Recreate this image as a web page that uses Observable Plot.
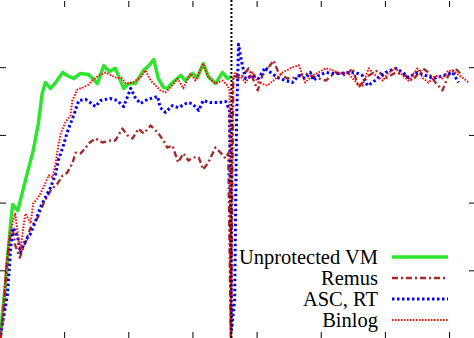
<!DOCTYPE html>
<html>
<head>
<meta charset="utf-8">
<script src="https://cdn.jsdelivr.net/npm/d3@7"></script>
<script src="https://cdn.jsdelivr.net/npm/@observablehq/plot@0.6"></script>
<style>
  html, body { margin: 0; padding: 0; background: #fff; }
  #wrap { position: relative; width: 474px; height: 338px; overflow: hidden; background: #fff; }
  #wrap svg { position: absolute; left: 0; top: 0; }
</style>
</head>
<body>
<div id="wrap"></div>
<script>
// ---- data (x: time, y: throughput) ----
const unprotectedVM = [[0,0.6],[0.3,7.4],[0.8,16.5],[1.2,26.0],[1.6,34.3],[1.9,39.6],[2.7,37.8],[3.4,43.1],[4.2,49.0],[5.1,55.5],[5.9,63.5],[6.5,72.4],[7.0,75.6],[7.8,73.9],[8.6,75.6],[9.7,78.6],[10.4,77.7],[11.4,76.8],[12.5,78.3],[13.7,78.0],[14.7,76.2],[15.1,75.3],[16.1,80.6],[17.0,78.9],[17.9,79.8],[18.7,76.2],[19.2,73.9],[20.0,75.3],[21.0,75.3],[22.3,79.2],[23.1,80.6],[23.9,82.4],[24.6,76.8],[25.4,74.2],[26.0,73.9],[26.8,75.6],[28.1,77.7],[28.8,76.2],[29.9,78.3],[30.7,77.1],[31.6,81.2],[32.4,77.4],[33.5,75.3],[34.6,78.6],[35.4,76.8],[36.0,77.4]];

const remus = [[0,0],[0.5,8.3],[0.9,20.1],[1.4,29.0],[1.9,32.5],[2.3,27.5],[3.0,23.9],[3.4,26.0],[3.9,28.4],[4.7,32.8],[5.8,35.7],[6.7,39.9],[7.8,43.7],[8.9,45.8],[9.7,48.2],[10.4,49.0],[11.2,51.7],[11.7,54.9],[12.5,54.7],[13.3,56.4],[13.7,57.6],[14.8,59.1],[15.9,57.9],[17.1,58.5],[17.9,58.5],[19.0,62.0],[19.8,60.0],[20.6,59.1],[21.5,62.0],[22.3,60.6],[23.4,62.9],[24.5,60.9],[25.4,58.5],[26.0,56.4],[26.8,57.0],[27.7,52.0],[28.5,54.7],[29.3,52.6],[30.1,53.5],[30.9,53.5],[31.6,49.9],[32.4,52.0],[33.5,56.4],[34.3,54.9],[35.1,53.2],[35.5,54.7],[35.9,0.6],[36.3,77.7],[37.4,76.8],[38.7,79.8],[40.1,73.3],[40.8,77.7],[42.6,82.1],[43.3,78.6],[44.7,76.8],[46.0,77.1],[47.5,78.3],[49.1,77.1],[50.7,76.2],[52.2,78.6],[53.8,77.7],[54.9,79.8],[55.8,74.2],[57.4,77.7],[58.8,79.2],[60.0,76.8],[61.6,78.6],[63.1,77.7],[64.2,76.2],[65.8,79.8],[66.7,78.6],[67.8,75.6],[68.9,73.3],[69.8,77.7],[70.9,79.8],[72.0,77.7]];

const ascRt = [[0,0.9],[0.3,4.4],[0.8,9.7],[1.1,13.3],[1.6,26.9],[2.0,32.8],[2.7,29.8],[3.1,25.4],[3.9,29.0],[4.7,31.0],[5.5,34.9],[6.2,38.7],[7.0,41.7],[7.8,44.6],[8.6,48.7],[9.0,52.6],[9.7,56.4],[10.4,60.9],[11.4,65.9],[12.2,70.3],[13.3,70.6],[14.0,69.7],[14.8,68.5],[15.6,70.3],[17.1,70.9],[18.2,70.3],[19.2,68.5],[20.3,73.9],[21.0,71.2],[21.8,69.4],[22.9,70.6],[24.5,71.5],[24.9,68.2],[25.7,66.8],[26.8,68.8],[27.7,68.2],[29.2,69.7],[29.9,69.4],[30.9,67.4],[31.6,70.3],[32.7,69.7],[34.0,69.7],[35.1,70.0],[35.7,67.4],[36.0,2.4],[36.5,11.2],[36.8,64.4],[37.1,86.9],[37.4,83.6],[37.7,80.7],[38.2,76.8],[39.3,77.7],[40.2,76.8],[41.3,80.1],[42.1,78.6],[43.2,77.1],[44.4,76.2],[45.5,75.6],[46.5,77.7],[47.5,76.8],[48.3,78.6],[48.8,76.2],[49.6,77.7],[50.7,78.6],[51.8,78.3],[53.0,78.3],[54.6,78.6],[55.7,78.3],[56.4,77.7],[57.2,74.7],[58.0,75.6],[58.9,77.1],[60.0,78.6],[61.6,79.8],[62.7,78.6],[63.6,77.1],[65.0,78.6],[66.3,77.7],[67.5,76.8],[69.1,77.7],[70.5,78.6],[71.4,75.6]];

const binlog = [[0,0],[0.5,11.2],[0.9,21.6],[1.4,30.4],[1.9,34.3],[2.3,36.9],[2.8,29.0],[3.1,26.0],[3.6,33.4],[3.9,36.9],[4.7,34.0],[5.1,39.9],[5.9,41.7],[6.7,44.6],[7.5,48.2],[8.1,47.6],[8.6,51.7],[9.0,57.0],[9.4,60.6],[10.1,63.8],[10.9,65.9],[11.2,70.3],[12.0,73.6],[12.9,74.2],[13.7,75.0],[14.3,76.2],[15.3,77.7],[16.4,78.6],[17.9,77.1],[19.0,76.8],[19.5,75.3],[20.6,75.6],[21.8,77.1],[22.6,79.2],[23.4,76.2],[24.2,74.7],[24.9,73.3],[25.7,72.7],[26.5,74.2],[27.6,76.8],[28.5,73.9],[29.6,78.3],[30.4,76.2],[31.6,81.2],[32.4,77.1],[33.5,75.3],[34.6,76.2],[35.4,74.7],[35.7,73.3],[35.9,0.6],[36.2,76.2],[36.6,78.6],[37.4,77.4],[38.2,75.6],[39.3,78.6],[40.2,75.6],[41.6,74.7],[42.9,76.8],[44.0,78.6],[45.5,80.1],[46.5,80.7],[47.5,75.6],[48.6,77.7],[49.6,78.6],[50.7,79.8],[51.8,79.2],[53.0,78.3],[54.1,78.6],[54.9,76.8],[55.7,75.3],[56.4,74.7],[57.4,79.8],[58.5,77.7],[59.6,76.2],[60.5,78.6],[61.6,79.8],[62.7,77.7],[63.6,76.2],[65.0,79.8],[65.9,76.8],[66.7,75.6],[67.8,77.7],[68.9,76.8],[69.8,79.2],[70.9,78.6],[72.2,76.8],[73.0,75.6]];

const failoverTime = [36.0];
const xTicks = [10, 20, 30, 40, 50, 60, 70];
const yTicks = [20, 40, 60, 80];
const xDomain = [0, 73.89];
const yDomain = [0, 99.85];
const seriesNames = ["Unprotected VM", "Remus", "ASC, RT", "Binlog"];

// ---- styles ----
const styles = [
  {stroke: "#2de52d", strokeWidth: 3.5, dash: null},
  {stroke: "#a52a2a", strokeWidth: 2.4, dash: "6,3,2,3"},
  {stroke: "#0000ff", strokeWidth: 3, dash: "2.5,2.5"},
  {stroke: "#ff0000", strokeWidth: 2, dash: "1.5,1.5"}
];
const seriesData = [unprotectedVM, remus, ascRt, binlog];

const lineMarks = seriesData.map((data, i) => Plot.line(data, {
  x: d => d[0], y: d => d[1],
  stroke: styles[i].stroke, strokeWidth: styles[i].strokeWidth,
  strokeDasharray: styles[i].dash || undefined,
  strokeLinecap: "butt"
}));

const W = 474, H = 338;
const chart = Plot.plot({
  width: W, height: H, margin: 0,
  style: {background: "#fff"},
  x: {domain: xDomain, range: [0, W]},
  y: {domain: yDomain, range: [H, 0]},
  marks: [
    ...lineMarks,
    Plot.ruleX(failoverTime, {x: d => d, stroke: "#000", strokeWidth: 2, strokeDasharray: "2,2"}),
    Plot.axisX(xTicks, {anchor: "top", tickSize: 6, dy: 6, fill: "none", label: null, stroke: "#000"}),
    Plot.axisX(xTicks, {anchor: "bottom", tickSize: 6, dy: -6, fill: "none", label: null, stroke: "#000"}),
    Plot.axisY(yTicks, {anchor: "left", tickSize: 6, dx: 6, fill: "none", label: null, stroke: "#000"}),
    Plot.axisY(yTicks, {anchor: "right", tickSize: 6, dx: -6, fill: "none", label: null, stroke: "#000"})
  ]
});
const wrap = document.getElementById("wrap");
wrap.appendChild(chart);

// ---- legend (inside the plot, lower right) ----
const leg = d3.select(wrap).append("svg")
  .attr("width", W).attr("height", H)
  .style("pointer-events", "none");
seriesNames.forEach((name, i) => {
  const cy = 257 + i * 21;
  leg.append("text")
    .attr("x", 378).attr("y", cy)
    .attr("dy", "0.35em")
    .attr("text-anchor", "end")
    .style("font-family", "'Liberation Serif', 'DejaVu Serif', serif")
    .style("font-size", "20.5px")
    .attr("fill", "#000")
    .text(name);
  leg.append("line")
    .attr("x1", 392).attr("x2", 448)
    .attr("y1", cy).attr("y2", cy)
    .attr("stroke", styles[i].stroke)
    .attr("stroke-width", styles[i].strokeWidth)
    .attr("stroke-dasharray", styles[i].dash);
});
</script>
</body>
</html>
